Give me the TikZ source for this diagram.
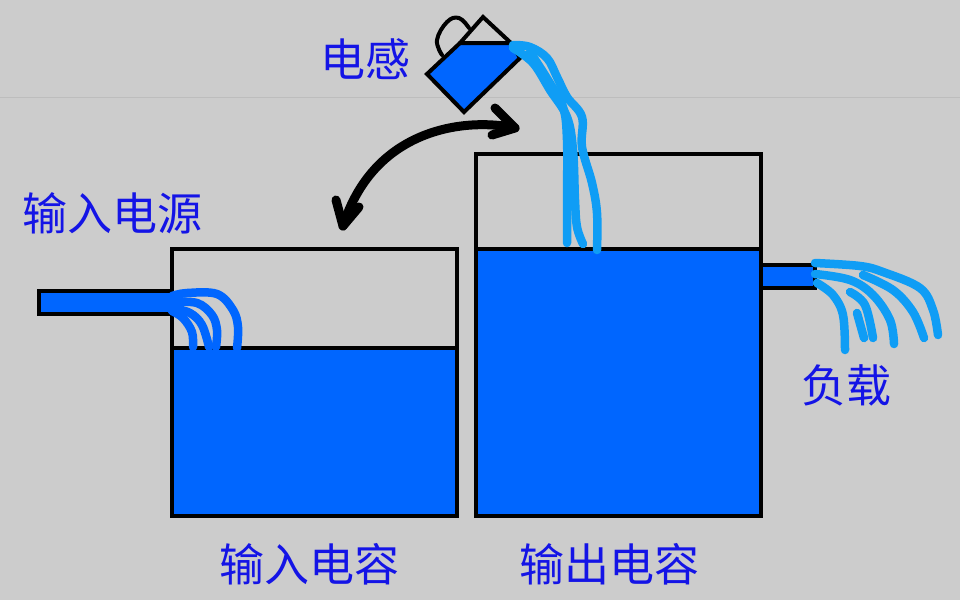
\documentclass[tikz,border=0pt]{standalone}
\usepackage{fontspec}
\newfontfamily\cjk{Noto Sans CJK SC}
\definecolor{bgc}{HTML}{CCCCCC}
\definecolor{ruleline}{HTML}{BDBDBD}
\definecolor{water}{HTML}{0066FF}
\definecolor{stream}{HTML}{0F9DF5}
\definecolor{labelc}{HTML}{1414E6}
\tikzset{
  tank/.style={draw=black,line width=4pt,line join=miter},
  waterfill/.style={fill=water,draw=black,line width=4pt,line join=miter},
  flow/.style={draw=stream,line width=8.5pt,line cap=round,line join=round},
  inflow/.style={draw=water,line width=8.5pt,line cap=round,line join=round},
  swing/.style={draw=black,line width=9pt,line cap=round,line join=round},
  lab/.style={text=labelc,font=\cjk\fontsize{45}{50}\selectfont,inner sep=0pt},
}
\begin{document}
\begin{tikzpicture}[x=1pt,y=-1pt]
\useasboundingbox (0,0) rectangle (960,600);
\fill[bgc] (0,0) rectangle (960,600);
\draw[ruleline,line width=1pt] (0,97) -- (960,97);

% tanks
\draw[tank] (172,249) rectangle (457,516);
\draw[waterfill] (172,348) rectangle (457,516);
\draw[tank] (476,154) rectangle (761,516);
\draw[waterfill] (476,249) rectangle (761,516);

% pipes
\draw[waterfill] (39,291) rectangle (172,314);
\draw[waterfill] (761,265) rectangle (815,288);

% jug
\draw[black,line width=4pt,line cap=round] plot[smooth,tension=.7] coordinates {(442,55) (437,40) (447,22) (459,18) (469,28)};
\draw[black,line width=4pt,line join=miter] (460,43) -- (483,17) -- (511,43);
\draw[waterfill] (427,74) -- (464,112) -- (520,58) -- (511,43) -- (460,43) -- cycle;

% inductor stream
\draw[flow] plot[smooth,tension=.6] coordinates {(513,45) (530,47) (547,58) (557,77) (567,97) (582,117) (582,147) (592,183) (597,213) (597,250)};
\draw[flow] plot[smooth,tension=.6] coordinates {(513,48) (533,63) (550,90) (567,117) (573,150) (575,200) (577,227) (583,244)};
\draw[flow] plot[smooth,tension=.6] coordinates {(530,52) (548,80) (563,107) (567,140) (567,200) (567,243)};

% input stream
\draw[inflow] plot[smooth,tension=.6] coordinates {(172,296) (187,293) (217,294) (233,310) (238,327) (237,348)};
\draw[inflow] plot[smooth,tension=.6] coordinates {(172,302) (197,303) (212,315) (217,330) (216,347)};
\draw[inflow] plot[smooth,tension=.6] coordinates {(172,308) (190,313) (202,325) (209,347)};
\draw[inflow] plot[smooth,tension=.6] coordinates {(172,311) (183,318) (192,332) (193,347)};

% load stream
\draw[flow] plot[smooth,tension=.6] coordinates {(815,263) (860,266) (883,272) (920,288) (933,310) (938,335)};
\draw[flow] plot[smooth,tension=.6] coordinates {(863,275) (893,290) (913,312) (924,338)};
\draw[flow] plot[smooth,tension=.6] coordinates {(815,274) (850,280) (873,295) (890,320) (894,344)};
\draw[flow] plot[smooth,tension=.6] coordinates {(817,283) (833,295) (843,315) (845,350)};
\draw[flow] plot[smooth,tension=.6] coordinates {(850,292) (865,305) (873,338)};
\draw[flow] plot[smooth,tension=.6] coordinates {(857,313) (864,338)};

% swing arrow
\coordinate (swingA) at (515,128);
\coordinate (swingB) at (343,226);
\draw[swing] (swingA) .. controls (470,118) and (375,125) .. (swingB);
\draw[swing] (495,108) -- (swingA) -- (492,135);
\draw[swing] (336,200) -- (swingB) -- (359,207);

% labels
\node[lab] (lInd) at (365,59) {电感};
\node[lab] (lSrc) at (112,213) {输入电源};
\node[lab] (lLoad) at (846,385) {负载};
\node[lab] (lInC) at (309,564) {输入电容};
\node[lab] (lOutC) at (609,564) {输出电容};
\end{tikzpicture}
\end{document}
